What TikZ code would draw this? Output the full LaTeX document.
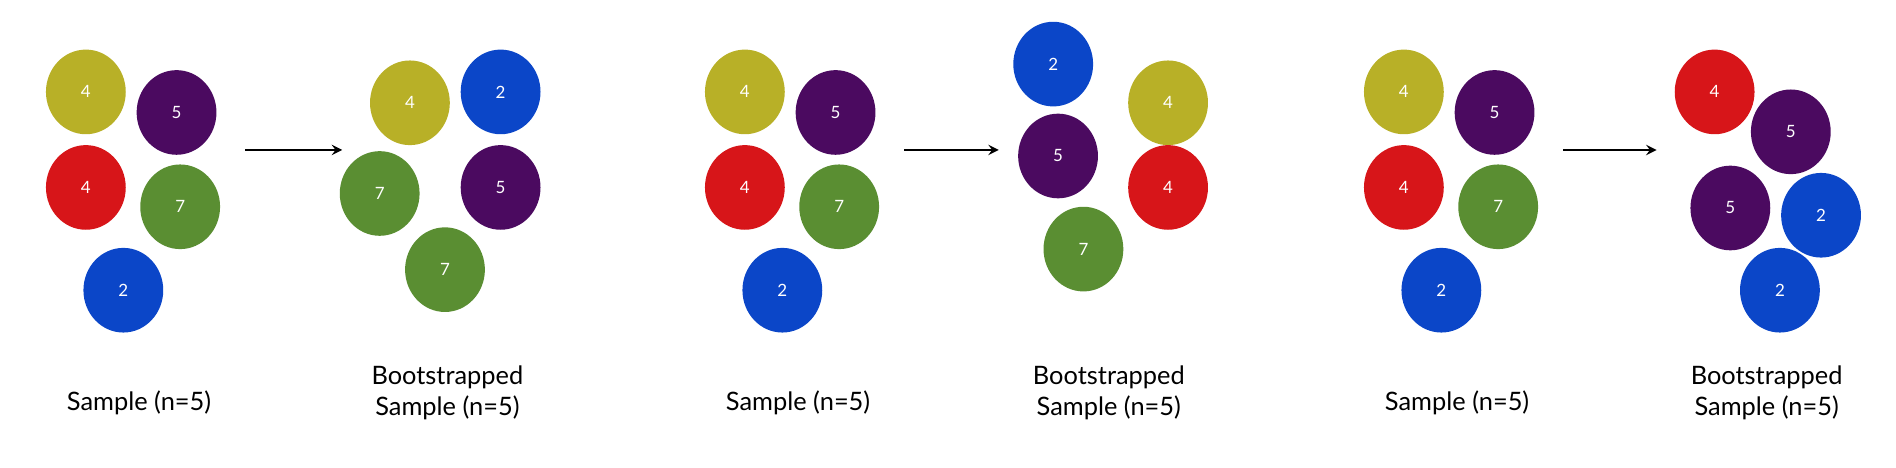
\documentclass[tikz,border=0pt]{standalone}
\usepackage{fontspec}
\setmainfont{Lato}
\usetikzlibrary{shapes.geometric}
\definecolor{cy}{HTML}{B8B027}
\definecolor{cp}{HTML}{4B0A60}
\definecolor{cr}{HTML}{D71519}
\definecolor{cg}{HTML}{5A8E32}
\definecolor{cb}{HTML}{0B46C8}
\begin{document}
\begin{tikzpicture}[x=0.5pt,y=-0.5pt,
 b/.style={ellipse,minimum width=33pt,minimum height=35pt,inner sep=0pt,text=white,font=\fontsize{7}{8}\selectfont,fill=#1},
 lab/.style={font=\fontsize{10.5}{13}\selectfont,align=center},
 arr/.style={->,>=stealth,line width=0.9pt}]
\useasboundingbox (0,0) rectangle (1568,387);
% group 1
\node[b=cy] (a1) at (71,76) {4};
\node[b=cp] (a2) at (146,93) {5};
\node[b=cr] (a3) at (71,155) {4};
\node[b=cg] (a4) at (149,171) {7};
\node[b=cb] (a5) at (102,240) {2};
\node[b=cy] (b1) at (339,85) {4};
\node[b=cb] (b2) at (414,76) {2};
\node[b=cg] (b3) at (314,160) {7};
\node[b=cp] (b4) at (414,155) {5};
\node[b=cg] (b5) at (368,223) {7};
\coordinate (s1) at (203,124); \coordinate (e1) at (283,124);
\draw[arr] (s1) -- (e1);
\node[lab] (l1) at (115,333) {Sample (n=5)};
\node[lab] (m1) at (370,325) {Bootstrapped\\Sample (n=5)};
% group 2
\node[b=cy] (c1) at (616,76) {4};
\node[b=cp] (c2) at (691,93) {5};
\node[b=cr] (c3) at (616,155) {4};
\node[b=cg] (c4) at (694,171) {7};
\node[b=cb] (c5) at (647,240) {2};
\node[b=cb] (d1) at (871,53) {2};
\node[b=cy] (d2) at (966,85) {4};
\node[b=cp] (d3) at (875,129) {5};
\node[b=cr] (d4) at (966,155) {4};
\node[b=cg] (d5) at (896,206) {7};
\coordinate (s2) at (748,124); \coordinate (e2) at (826,124);
\draw[arr] (s2) -- (e2);
\node[lab] (l2) at (660,333) {Sample (n=5)};
\node[lab] (m2) at (917,325) {Bootstrapped\\Sample (n=5)};
% group 3
\node[b=cy] (f1) at (1161,76) {4};
\node[b=cp] (f2) at (1236,93) {5};
\node[b=cr] (f3) at (1161,155) {4};
\node[b=cg] (f4) at (1239,171) {7};
\node[b=cb] (f5) at (1192,240) {2};
\node[b=cr] (g1) at (1418,76) {4};
\node[b=cp] (g2) at (1481,109) {5};
\node[b=cp] (g3) at (1431,172) {5};
\node[b=cb] (g4) at (1506,178) {2};
\node[b=cb] (g5) at (1472,240) {2};
\coordinate (s3) at (1293,124); \coordinate (e3) at (1370,124);
\draw[arr] (s3) -- (e3);
\node[lab] (l3) at (1205,333) {Sample (n=5)};
\node[lab] (m3) at (1461,325) {Bootstrapped\\Sample (n=5)};
\end{tikzpicture}
\end{document}
